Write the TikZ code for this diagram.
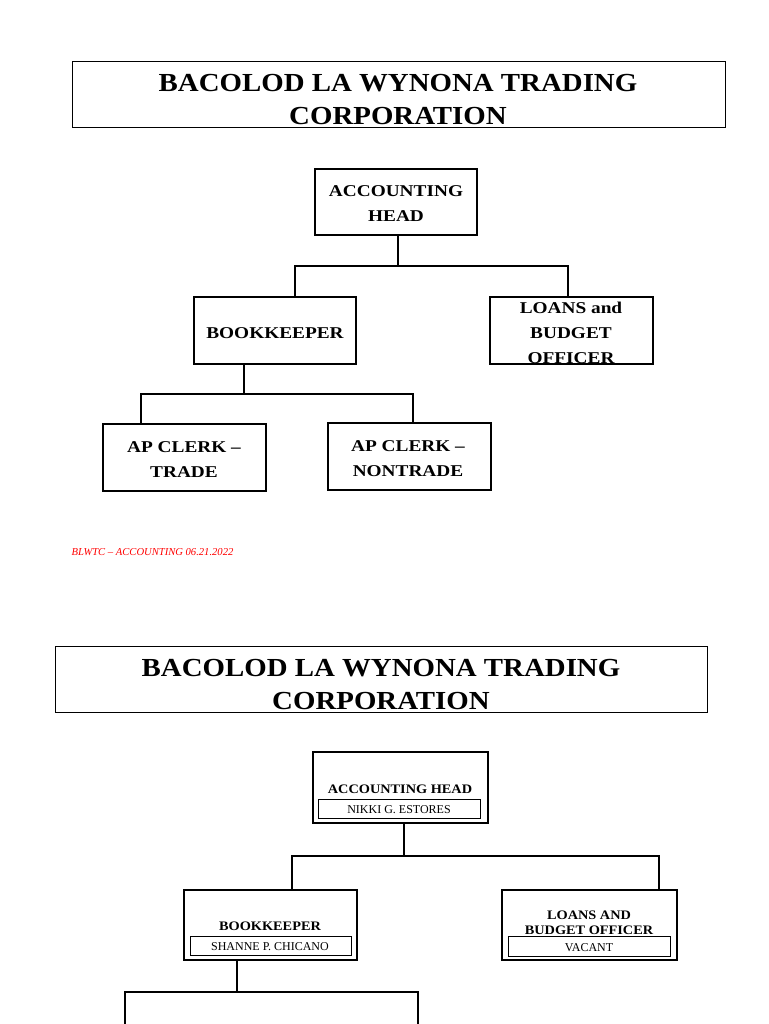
\documentclass[tikz,border=0pt]{standalone}
\usepackage{fontspec}
\setmainfont{Liberation Serif}
\begin{document}
\begin{tikzpicture}[x=1pt,y=-1pt,
  bx/.style={draw,line width=1.3pt},
  ib/.style={draw,line width=0.6pt},
  ln/.style={line width=1.6pt},
  ttl/.style={font=\fontsize{26}{33}\selectfont\bfseries,align=center,xscale=1.11},
  lab/.style={font=\fontsize{16.5}{25}\selectfont\bfseries,align=center,xscale=1.17},
  lab2/.style={font=\fontsize{13}{16}\selectfont\bfseries,align=center,xscale=1.1},
  nm/.style={font=\fontsize{12}{14}\selectfont}]
\useasboundingbox (0,0) rectangle (768,1024);
% top chart
\draw[ib,line width=0.8pt] (72,61) rectangle (725,127);
\node[ttl] (t1) at (398,100) {BACOLOD LA WYNONA TRADING\\CORPORATION};
\draw[bx] (315,169) rectangle (477,235);
\node[lab] (ah) at (396,204) {ACCOUNTING\\HEAD};
\draw[bx] (194,297) rectangle (356,364);
\node[lab] (bk) at (275,333) {BOOKKEEPER};
\draw[bx] (490,297) rectangle (653,364);
\begin{scope}
\clip (490,297) rectangle (653,363);
\node[lab] (lo) at (571,333) {LOANS and\\BUDGET\\OFFICER};
\end{scope}
\draw[bx] (103,424) rectangle (266,491);
\node[lab] (ap1) at (184,460) {AP CLERK --\\TRADE};
\draw[bx] (328,423) rectangle (491,490);
\node[lab] (ap2) at (408,459) {AP CLERK --\\NONTRADE};
\coordinate (a1) at (398,235); \coordinate (a2) at (398,266);
\draw[ln] (a1) -- (a2);
\draw[ln] (295,297) -- (295,266) -- (568,266) -- (568,297);
\draw[ln] (244,364) -- (244,394);
\draw[ln] (141,424) -- (141,394) -- (413,394) -- (413,423);
\node[anchor=west,text=red,font=\fontsize{10.6}{12}\selectfont\itshape] (ft) at (68,552) {BLWTC -- ACCOUNTING 06.21.2022};
% second chart
\draw[ib,line width=0.8pt] (55,646) rectangle (707,712);
\node[ttl] (t2) at (381,685) {BACOLOD LA WYNONA TRADING\\CORPORATION};
\draw[bx] (313,752) rectangle (488,823);
\node[lab2] (ah2) at (400,789) {ACCOUNTING HEAD};
\draw[ib] (318,799) rectangle (480,818);
\node[nm] (n1) at (399,810) {NIKKI G. ESTORES};
\draw[bx] (184,890) rectangle (357,960);
\node[lab2] (bk2) at (270,926) {BOOKKEEPER};
\draw[ib] (190,936) rectangle (351,955);
\node[nm] (n2) at (270,947) {SHANNE P. CHICANO};
\draw[bx] (502,890) rectangle (677,960);
\node[lab2,font=\fontsize{13}{15}\selectfont\bfseries] (lo2) at (589,923) {LOANS AND\\BUDGET OFFICER};
\draw[ib,fill=white] (508,936) rectangle (670,956);
\node[nm] (n3) at (589,948) {VACANT};
\draw[ln] (404,823) -- (404,856);
\draw[ln] (292,890) -- (292,856) -- (659,856) -- (659,890);
\draw[ln] (237,960) -- (237,992);
\draw[ln] (125,1024) -- (125,992) -- (418,992) -- (418,1024);
\end{tikzpicture}
\end{document}
